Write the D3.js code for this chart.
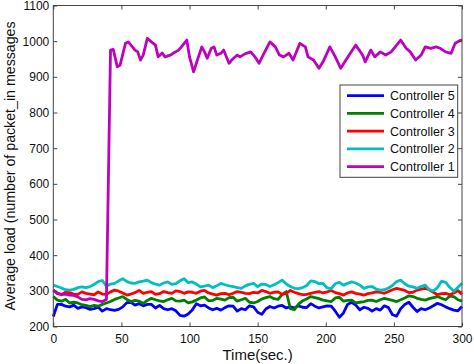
<!DOCTYPE html>
<html lang="en">
<head>
<meta charset="utf-8">
<script src="https://d3js.org/d3.v7.min.js"></script>
<style>
  body { margin: 0; background: #fff; }
  svg { display: block; font-family: "Liberation Sans", Arial, Helvetica, sans-serif; }
</style>
</head>
<body>
<script>
// sample times (sec.) for controllers 2..5
const time = [0,3,6,9,12,15,18,21,24,27,30,33,36,39,42,45,48,51,54,57,60,63,66,69,72,75,78,81,84,87,90,93,96,99,
  102,105,108,111,114,117,120,123,126,129,132,135,138,141,144,147,150,153,156,159,162,165,168,171,174,177,180,
  183,186,189,192,195,198,201,204,207,210,213,216,219,222,225,228,231,234,237,240,243,246,249,252,255,258,261,
  264,267,270,273,276,279,282,285,288,291,294,297,300];

const c5Load = [228,262,262,257,255,260,251,255,253,248,250,254,243,250,247,245,248,255,267,268,260,264,258,262,
  262,252,259,250,247,250,244,231,229,235,246,264,258,260,252,247,251,246,253,258,257,243,250,247,258,255,240,
  234,249,256,252,257,259,252,255,252,258,254,253,264,257,252,255,258,257,243,226,238,262,268,260,247,254,251,
  243,250,246,258,253,233,229,250,262,268,254,242,250,247,252,258,265,261,255,250,246,244,256];

const c4Load = [284,274,271,276,266,268,266,261,259,256,259,257,262,266,270,276,280,284,276,270,273,271,265,273,
  279,275,272,270,275,279,272,271,274,266,269,274,280,283,272,273,279,277,274,281,282,271,275,279,268,266,270,
  277,281,284,278,276,290,298,250,247,263,272,277,284,281,278,274,272,270,280,282,271,273,274,266,268,270,273,
  274,270,275,279,276,273,270,275,280,286,284,279,276,274,278,281,284,279,275,285,284,275,271];

const c3Load = [302,292,289,296,295,291,290,297,293,291,289,297,291,290,297,302,299,294,288,291,295,301,293,296,
  298,290,292,298,295,293,300,298,293,297,296,293,299,301,294,291,288,292,293,289,293,298,296,293,292,296,294,
  301,298,293,296,297,290,293,301,296,292,289,290,293,296,298,294,297,301,295,292,288,294,297,293,291,288,292,
  294,297,296,293,298,303,307,304,301,295,296,302,305,307,303,296,289,292,293,289,294,301,290];

const c2Load = [316,312,308,303,302,304,309,311,309,312,318,326,329,313,319,321,328,334,326,322,321,325,327,330,
  323,319,316,322,325,318,320,328,334,323,325,319,311,313,316,309,314,321,317,314,312,309,307,314,318,321,312,
  319,318,312,317,323,330,319,312,307,306,309,315,328,326,320,321,308,306,320,324,316,321,325,322,316,307,311,
  312,305,302,303,308,315,326,330,320,313,311,307,312,316,303,300,309,327,324,310,299,310,321];

// controller 1 has its own sample times (jump near 40 s)
const c1Time = [0,3,6,9,12,15,18,21,24,27,30,33,36,39,42,44,47,49,53,55,57,60,62,64,66,69,72,75,77,80,82,86,88,
  92,94,98,100,103,105,109,111,113,116,118,120,123,125,129,131,135,137,141,145,148,151,154,159,163,166,169,173,
  176,181,185,187,191,195,198,203,207,211,214,218,222,227,229,233,236,240,244,248,251,255,259,262,266,270,273,
  277,281,284,288,292,295,299,300];
const c1Load = [302,294,290,291,288,287,283,276,275,278,276,272,270,276,975,977,928,933,994,998,989,975,970,947,
  961,1008,998,989,956,967,956,961,966,975,984,1003,956,914,938,984,970,952,980,984,961,966,975,938,947,961,956,
  965,970,956,938,961,998,984,961,956,966,947,994,984,956,947,924,942,984,956,924,942,966,989,961,942,975,956,
  970,961,970,984,1003,980,970,947,961,984,980,984,980,970,966,994,1003,1000];

const names = ["Controller 5", "Controller 4", "Controller 3", "Controller 2", "Controller 1"];
const colors = ["#0000ff", "#008000", "#ff0000", "#00bfbf", "#bf00bf"];
const xTicks = [0, 50, 100, 150, 200, 250, 300];
const yTicks = [200, 300, 400, 500, 600, 700, 800, 900, 1000, 1100];

const W = 474, H = 364;
const pLeft = 53.3, pRight = 462, pTop = 5.5, pBottom = 326.5;

const svg = d3.select("body").append("svg")
  .attr("width", W)
  .attr("height", H);

const x = d3.scaleLinear().domain([0, 300]).range([pLeft, pRight]);
const y = d3.scaleLinear().domain([200, 1100]).range([pBottom, pTop]);

const series = [
  { t: time, v: c5Load },
  { t: time, v: c4Load },
  { t: time, v: c3Load },
  { t: time, v: c2Load },
  { t: c1Time, v: c1Load }
];

const line = d3.line()
  .x(d => x(d[0]))
  .y(d => y(d[1]));

// plot order: controller 5 first, controller 1 on top
svg.append("g").selectAll("path")
  .data(series)
  .enter()
  .append("path")
  .attr("d", s => line(s.t.map((t, i) => [t, s.v[i]])))
  .attr("fill", "none")
  .attr("stroke", (s, i) => colors[i])
  .attr("stroke-width", 2.8)
  .attr("stroke-linejoin", "round");

// axes with inward ticks (matlab style)
const tickLen = 4;
const fmt = d3.format("d");
const gx = svg.append("g")
  .attr("transform", `translate(0,${pBottom})`)
  .call(d3.axisBottom(x).tickValues(xTicks).tickFormat(fmt).tickSize(-tickLen).tickPadding(8));
const gxTop = svg.append("g")
  .attr("transform", `translate(0,${pTop})`)
  .call(d3.axisTop(x).tickValues(xTicks).tickSize(-tickLen).tickFormat(""));
const gy = svg.append("g")
  .attr("transform", `translate(${pLeft},0)`)
  .call(d3.axisLeft(y).tickValues(yTicks).tickFormat(fmt).tickSize(-tickLen).tickPadding(4));
const gyRight = svg.append("g")
  .attr("transform", `translate(${pRight},0)`)
  .call(d3.axisRight(y).tickValues(yTicks).tickSize(-tickLen).tickFormat(""));

[gx, gxTop, gy, gyRight].forEach(g => {
  g.select(".domain").remove();
  g.selectAll("line").attr("stroke", "#444");
  g.selectAll("text")
    .attr("fill", "#111")
    .style("font-size", "12px")
    .style("font-family", "'Liberation Sans', Arial, sans-serif");
});

// frame
svg.append("rect")
  .attr("x", pLeft)
  .attr("y", pTop)
  .attr("width", pRight - pLeft)
  .attr("height", pBottom - pTop)
  .attr("fill", "none")
  .attr("stroke", "#444")
  .attr("stroke-width", 1);

// axis titles
svg.append("text")
  .attr("x", (pLeft + pRight) / 2)
  .attr("y", 360)
  .attr("text-anchor", "middle")
  .style("font-size", "15px")
  .attr("fill", "#111")
  .text("Time(sec.)");

svg.append("text")
  .attr("transform", `translate(15,${(pTop + pBottom) / 2}) rotate(-90)`)
  .attr("text-anchor", "middle")
  .style("font-size", "14.2px")
  .attr("fill", "#111")
  .text("Average load (number of packet_in messages");

// legend
const lg = svg.append("g");
lg.append("rect")
  .attr("x", 340)
  .attr("y", 85)
  .attr("width", 117.7)
  .attr("height", 92.3)
  .attr("fill", "#fff")
  .attr("stroke", "#444");

const rowY = d3.scaleLinear().domain([0, 4]).range([95.7, 166.7]);
names.forEach((n, i) => {
  lg.append("line")
    .attr("x1", 347).attr("x2", 384)
    .attr("y1", rowY(i)).attr("y2", rowY(i))
    .attr("stroke", colors[i])
    .attr("stroke-width", 2.8);
  lg.append("text")
    .attr("x", 390)
    .attr("y", rowY(i))
    .attr("dy", "0.36em")
    .style("font-size", "12.5px")
    .attr("fill", "#111")
    .text(n);
});
</script>
</body>
</html>
